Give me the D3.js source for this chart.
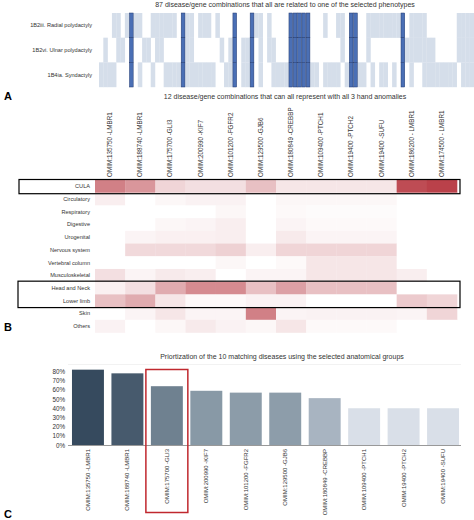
<!DOCTYPE html>
<html><head><meta charset="utf-8">
<script src="https://cdn.jsdelivr.net/npm/d3@7/dist/d3.min.js"></script>
<style>body{margin:0;background:#fff}text{font-family:"Liberation Sans",Arial,sans-serif}</style>
</head><body><svg id="c" width="474" height="520"></svg>
<script>
// Panel A
const phenotypes = ["1B2iii. Radial polydactyly","1B2vi. Ulnar polydactyly","1B4ia. Syndactyly"];
const nCombos = 87;
const allThree = [7,19,31,35,44,45,46,47,48,58,59,70];
const rowCols = [
  [3,4,6,8,9,12,13,14,15,16,17,20,21,23,24,25,27,36,37,39,52,55,56,62,63,64,65,66,67,68,69,72,73,74,75,83,84,85,86],
  [1,4,5,10,11,13,14,20,21,28,30,33,34,37,39,40,56,62,71,72,73,74,75,76,77,83,84,85,86],
  [0,1,2,3,9,12,15,16,17,18,20,21,22,23,24,25,26,29,30,33,34,37,40,41,42,43,49,50,52,53,54,55,57,60,61,63,65,66,68,72,75,76,77,78,79,80,81,82,84,85,86]
];
// Panel B
const diseasesB = ["OMIM:135750 -LMBR1","OMIM:188740 -LMBR1","OMIM:175700 -GLI3","OMIM:200990 -KIF7","OMIM:101200 -FGFR2","OMIM:129500 -GJB6","OMIM:180849 -CREBBP","OMIM:109400 -PTCH1","OMIM:19400 -PTCH2","OMIM:19400 -SUFU","OMIM:186200 - LMBR1","OMIM:174500 - LMBR1"];
const groups = ["CULA","Circulatory","Respiratory","Digestive","Urogenital","Nervous system","Vertebral column","Musculoskeletal","Head and Neck","Lower limb","Skin","Others"];
const heat = [
  [0.6,0.5,0.2,0.15,0.15,0.3,0.12,0.12,0.12,0.12,0.85,0.9],
  [0.08,0,0.04,0.06,0.06,0,0.04,0.04,0.04,0.04,0,0],
  [0,0,0,0,0.04,0,0.03,0.02,0.02,0.02,0,0],
  [0,0,0.04,0.05,0.08,0,0.05,0.03,0.03,0.03,0,0],
  [0,0.05,0.07,0.07,0.08,0,0.1,0.05,0.05,0.05,0,0],
  [0,0.18,0.18,0.18,0.22,0.08,0.2,0.2,0.2,0.2,0,0],
  [0,0,0,0,0.04,0,0.03,0.12,0.12,0.12,0,0],
  [0.15,0.05,0.1,0.08,0,0.05,0.05,0.12,0.12,0.12,0.08,0],
  [0.07,0.15,0.4,0.55,0.55,0.3,0.45,0.3,0.3,0.3,0,0],
  [0.3,0.4,0.12,0.03,0.03,0.06,0.06,0,0,0,0.25,0.2],
  [0,0.05,0.12,0.05,0.05,0.6,0.05,0.06,0.06,0.06,0.05,0.2],
  [0.06,0,0.04,0.1,0.06,0.04,0.12,0.03,0.03,0.03,0,0]
];
// Panel C
const diseasesC = ["OMIM:135750 -LMBR1","OMIM:188740 -LMBR1","OMIM:175700 -GLI3","OMIM:200990 -KIF7","OMIM:101200 -FGFR2","OMIM:129500 -GJB6","OMIM:180849 -CREBBP","OMIM:109400 -PTCH1","OMIM:19400 -PTCH2","OMIM:19400 -SUFU"];
const scores = [82,78,64,59,57,57,51,40,40,40];
const barColors = ["#364a5e","#475a6d","#6f8190","#8899a6","#8c9ca9","#8d9daa","#a8b4c1","#d9dfe8","#d9dfe8","#d9dfe8"];
const yTicks = [0,10,20,30,40,50,60,70,80];

const svg = d3.select("#c");
const fs = 6.3;
// ---- A
svg.append("text").attr("x",285).attr("y",7).attr("text-anchor","middle").attr("font-size",7).attr("fill","#333").text("87 disease/gene combinations that all are related to one of the selected phenotypes");
const xA = d3.scaleBand().domain(d3.range(nCombos)).range([99,474]);
const yA = d3.scaleBand().domain(d3.range(3)).range([13,87]);
phenotypes.forEach((p,r)=>{
  svg.append("text").attr("x",92).attr("y",yA(r)+yA.bandwidth()/2+2).attr("text-anchor","end").attr("font-size",5.6).attr("fill","#333").text(p);
  svg.selectAll(null).data(rowCols[r]).enter().append("rect")
    .attr("x",d=>xA(d)).attr("y",yA(r)).attr("width",xA.bandwidth()+0.2).attr("height",yA.bandwidth()+0.2).attr("fill","#d5deea");
  svg.selectAll(null).data(allThree).enter().append("rect")
    .attr("x",d=>xA(d)+0.3).attr("y",yA(r)).attr("width",xA.bandwidth()-0.6).attr("height",yA.bandwidth())
    .attr("fill","#4a6fb5").attr("stroke","#233a70").attr("stroke-width",0.5);
});
svg.append("text").attr("x",4).attr("y",100).attr("font-size",11).attr("font-weight","bold").text("A");
// ---- B
svg.append("text").attr("x",285).attr("y",99).attr("text-anchor","middle").attr("font-size",7).attr("fill","#333").text("12 disease/gene combinations that can all represent with all 3 hand anomalies");
const xB = d3.scaleBand().domain(d3.range(diseasesB.length)).range([95,457]);
const yB = d3.scaleBand().domain(d3.range(groups.length)).range([180,332.5]);
const col = d3.scaleLinear().domain([0,1]).range(["#ffffff","#b22c36"]);
diseasesB.forEach((d,i)=>{
  const cx = xB(i)+xB.bandwidth()/2+2;
  svg.append("text").attr("transform",`translate(${cx},177) rotate(-90)`).attr("font-size",6.3).attr("fill","#333").text(d);
});
groups.forEach((g,r)=>{
  svg.append("text").attr("x",90).attr("y",yB(r)+yB.bandwidth()/2+2).attr("text-anchor","end").attr("font-size",5.6).attr("fill","#333").text(g);
  svg.selectAll(null).data(heat[r]).enter().append("rect")
    .attr("x",(d,i)=>xB(i)).attr("y",yB(r)).attr("width",xB.bandwidth()+0.3).attr("height",yB.bandwidth()+0.3).attr("fill",d=>col(d));
});
svg.append("rect").attr("x",19).attr("y",yB(0)-0.5).attr("width",441).attr("height",yB.bandwidth()+1.5).attr("fill","none").attr("stroke","#000").attr("stroke-width",1.2);
svg.append("rect").attr("x",18).attr("y",yB(8)-0.5).attr("width",442).attr("height",yB.bandwidth()*2+1).attr("fill","none").attr("stroke","#000").attr("stroke-width",1.2);
svg.append("text").attr("x",4).attr("y",331).attr("font-size",11).attr("font-weight","bold").text("B");
// ---- C
svg.append("text").attr("x",282).attr("y",359).attr("text-anchor","middle").attr("font-size",7).attr("fill","#333").text("Priortization of the 10 matching diseases using the selected anatomical groups");
const xC = d3.scaleBand().domain(d3.range(scores.length)).range([70,461]).paddingInner(0.19).paddingOuter(0.05);
const yC = d3.scaleLinear().domain([0,80]).range([445,371.5]);
svg.append("line").attr("x1",68).attr("x2",461).attr("y1",364.5).attr("y2",364.5).attr("stroke","#f2f2f2");
const yAx = svg.append("g").attr("transform","translate(68,0)").call(d3.axisLeft(yC).tickValues(yTicks).tickFormat(d=>d+"%").tickSize(0).tickPadding(3));
yAx.select(".domain").remove();
yAx.selectAll("text").attr("font-size",fs).attr("fill","#333").attr("font-family","Liberation Sans, Arial, sans-serif");
svg.selectAll(null).data(scores).enter().append("rect")
  .attr("x",(d,i)=>xC(i)).attr("y",d=>yC(d)).attr("width",xC.bandwidth()).attr("height",d=>yC(0)-yC(d)).attr("fill",(d,i)=>barColors[i]);
svg.append("line").attr("x1",68).attr("x2",461).attr("y1",445.5).attr("y2",445.5).attr("stroke","#999");
diseasesC.forEach((d,i)=>{
  const cx = xC(i)+xC.bandwidth()/2+2;
  svg.append("text").attr("transform",`translate(${cx},449) rotate(-90)`).attr("text-anchor","end").attr("font-size",6).attr("fill","#333").text(d);
});
svg.append("rect").attr("x",xC(2)-5).attr("y",369.5).attr("width",xC.bandwidth()+10).attr("height",143).attr("fill","none").attr("stroke","#c0282e").attr("stroke-width",1.5);
svg.append("text").attr("x",4).attr("y",518).attr("font-size",11).attr("font-weight","bold").text("C");
</script></body></html>
